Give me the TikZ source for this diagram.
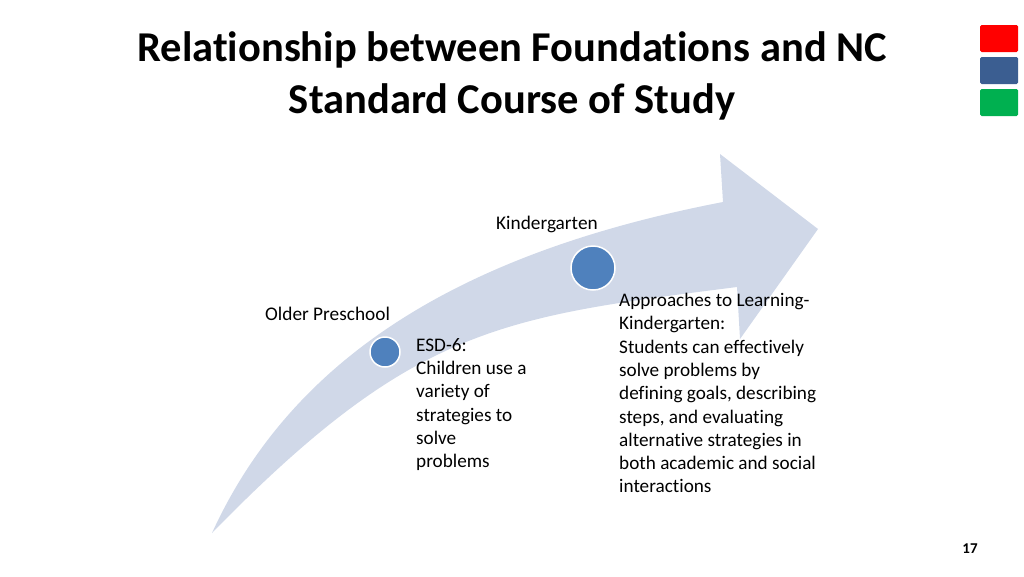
\documentclass[tikz,border=0pt]{standalone}
\usepackage{fontspec}
\setmainfont{Carlito}[Ligatures=NoCommon]
\usepackage{tikz}

\definecolor{bandblue}{RGB}{208,216,232}
\definecolor{stopblue}{RGB}{79,129,189}
\definecolor{sqred}{RGB}{255,0,0}
\definecolor{sqblue}{RGB}{59,94,145}
\definecolor{sqgreen}{RGB}{0,176,80}

\tikzset{
  stopdot/.style={circle, fill=stopblue, draw=white, line width=1.5pt, inner sep=0pt},
  bodytext/.style={font=\fontsize{19.2}{23.3}\selectfont, align=left, inner sep=0pt, anchor=north west},
  corner/.style={rounded corners=1.5pt}
}

\begin{document}
\begin{tikzpicture}[x=1pt, y=-1pt]

\useasboundingbox (0,0) rectangle (1024,576);

% curved arrow
\fill [bandblue]
(212,533) .. controls (296,349) and (474,250) .. (723,202) -- (720,154) -- (818,229)
-- (740,339) -- (737,287) .. controls (502,317) and (414,326) .. (212,533);

%\draw [color=black!30] (512,0) -- (512,576);

\node (title) at (512,76) [font=\fontsize{42.5}{52}\selectfont\bfseries, align=center]
{Relationship between Foundations and NC\\Standard Course of Study};

\fill [sqred, corner] (980,25) rectangle (1018,52);
\fill [sqblue, corner] (980,57) rectangle (1018,84);
\fill [sqgreen, corner] (980,89) rectangle (1018,116);


\node (pre) [stopdot, minimum size=30pt] at (385,352) {};
\node (kin) [stopdot, minimum size=44pt] at (593,268) {};

\node (prelabel) at (265,314) [anchor=west, font=\fontsize{19.3}{22}\selectfont, inner sep=0pt] {Older Preschool};
\node (kinlabel) at (496,224) [anchor=west, font=\fontsize{19.3}{22}\selectfont, inner sep=0pt] {Kindergarten};

\node (esd) at (416,338) [bodytext]
{ESD-6:\\Children use a\\variety of\\strategies to\\solve\\problems};

\node (atl) at (619,293) [bodytext]
{Approaches to Learning-\\Kindergarten:\\Students can effectively\\solve problems by\\defining goals, describing\\steps, and evaluating\\alternative strategies in\\both academic and social\\interactions};

\node (page) at (970,549) [font=\fontsize{15}{17}\selectfont\bfseries, inner sep=0pt] {17};

\end{tikzpicture}
\end{document}
